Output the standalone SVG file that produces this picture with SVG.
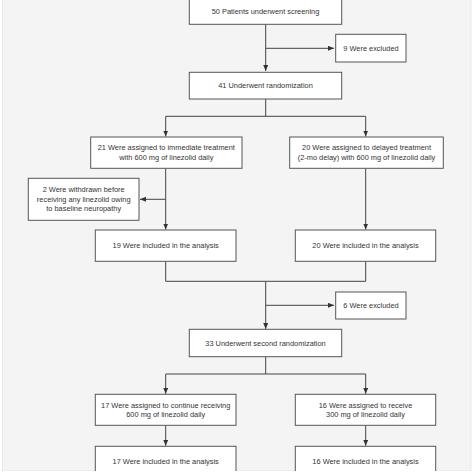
<svg xmlns="http://www.w3.org/2000/svg" width="474" height="474" viewBox="0 0 474 474">
<style>
.box{fill:#fff;stroke:#555;stroke-width:1}
.t{font-family:"Liberation Sans","Open Sans",sans-serif;font-size:7.4px;fill:#333;text-anchor:middle}
.c{fill:none;stroke:#444;stroke-width:1}
</style>
<defs>
<marker id="ah" markerUnits="userSpaceOnUse" markerWidth="6" markerHeight="5" refX="6" refY="2.5" orient="auto">
<path d="M0,0 L6,2.5 L0,5 z" fill="#333"/>
</marker>
</defs>
<rect x="0" y="0" width="474" height="474" fill="#fff"/>
<rect x="2.5" y="-1" width="468.5" height="472" fill="#f4f4f4" stroke="#e4e4e4" stroke-width="0.8"/>
<g id="connectors">
<path class="c" d="M265.7,24.3 V71" marker-end="url(#ah)"/>
<path class="c" d="M265.7,48.3 H334" marker-end="url(#ah)"/>
<path class="c" d="M265.7,99 V116.3"/>
<path class="c" d="M165.7,116.3 H365.7"/>
<path class="c" d="M165.7,116.3 V136.5" marker-end="url(#ah)"/>
<path class="c" d="M365.7,116.3 V136.5" marker-end="url(#ah)"/>
<path class="c" d="M165.7,168.3 V229.5" marker-end="url(#ah)"/>
<path class="c" d="M165.7,199.3 H140" marker-end="url(#ah)"/>
<path class="c" d="M365.7,168.3 V229.5" marker-end="url(#ah)"/>
<path class="c" d="M165.7,261.3 V281.3 H365.7 V261.3"/>
<path class="c" d="M265.7,281.3 V329" marker-end="url(#ah)"/>
<path class="c" d="M265.7,305.3 H334" marker-end="url(#ah)"/>
<path class="c" d="M265.7,356.7 V374"/>
<path class="c" d="M165.7,374 H365.7"/>
<path class="c" d="M165.7,374 V393.8" marker-end="url(#ah)"/>
<path class="c" d="M365.7,374 V393.8" marker-end="url(#ah)"/>
<path class="c" d="M165.7,425.3 V445.8" marker-end="url(#ah)"/>
<path class="c" d="M365.7,425.3 V445.8" marker-end="url(#ah)"/>
</g>
<g id="n-screening">
<rect class="box" x="189.3" y="-4" width="152.4" height="28.3"/>
<text class="t" x="265.5" y="14.3">50 Patients underwent screening</text>
</g>
<g id="n-excluded1">
<rect class="box" x="335.7" y="34.3" width="70.3" height="27.7"/>
<text class="t" x="371" y="50.7">9 Were excluded</text>
</g>
<g id="n-random1">
<rect class="box" x="189.3" y="72.3" width="152.4" height="26.7"/>
<text class="t" x="265.5" y="88.3">41 Underwent randomization</text>
</g>
<g id="n-immediate">
<rect class="box" x="90.7" y="137" width="151.3" height="31.3"/>
<text class="t" x="166.3" y="150.2">21 Were assigned to immediate treatment</text>
<text class="t" x="166.3" y="160.2">with 600 mg of linezolid daily</text>
</g>
<g id="n-delayed">
<rect class="box" x="289.7" y="137" width="153.6" height="31.3"/>
<text class="t" x="366.5" y="150.2">20 Were assigned to delayed treatment</text>
<text class="t" x="366.5" y="160.2">(2-mo delay) with 600 mg of linezolid daily</text>
</g>
<g id="n-withdrawn">
<rect class="box" x="28.3" y="178.3" width="110.7" height="42"/>
<text class="t" x="83.7" y="191.9">2 Were withdrawn before</text>
<text class="t" x="83.7" y="201.6">receiving any linezolid owing</text>
<text class="t" x="83.7" y="211.3">to baseline neuropathy</text>
</g>
<g id="n-incl19">
<rect class="box" x="95.3" y="230" width="140.7" height="31.3"/>
<text class="t" x="165.7" y="248.3">19 Were included in the analysis</text>
</g>
<g id="n-incl20">
<rect class="box" x="295.3" y="230" width="140.4" height="31.3"/>
<text class="t" x="365.5" y="248.3">20 Were included in the analysis</text>
</g>
<g id="n-excluded2">
<rect class="box" x="335.7" y="292" width="70.3" height="27"/>
<text class="t" x="371" y="308">6 Were excluded</text>
</g>
<g id="n-random2">
<rect class="box" x="189.3" y="329.3" width="152.4" height="27.4"/>
<text class="t" x="265.5" y="345.7">33 Underwent second randomization</text>
</g>
<g id="n-continue">
<rect class="box" x="95.3" y="394.3" width="140.7" height="31"/>
<text class="t" x="165.7" y="407.6">17 Were assigned to continue receiving</text>
<text class="t" x="165.7" y="417.3">600 mg of linezolid daily</text>
</g>
<g id="n-receive300">
<rect class="box" x="295.3" y="394.3" width="140.4" height="31"/>
<text class="t" x="365.5" y="407.6">16 Were assigned to receive</text>
<text class="t" x="365.5" y="417.3">300 mg of linezolid daily</text>
</g>
<g id="n-incl17">
<rect class="box" x="95.3" y="446.3" width="140.7" height="31"/>
<text class="t" x="165.7" y="464.3">17 Were included in the analysis</text>
</g>
<g id="n-incl16">
<rect class="box" x="295.3" y="446.3" width="140.4" height="31"/>
<text class="t" x="365.5" y="464.3">16 Were included in the analysis</text>
</g>
<rect x="0" y="471" width="474" height="3" fill="#fff"/>
</svg>
